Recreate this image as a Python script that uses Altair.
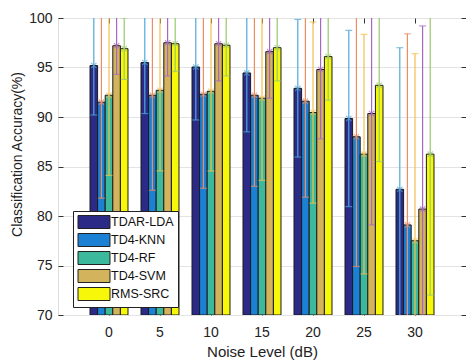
import altair as alt
import pandas as pd

levels = [0, 5, 10, 15, 20, 25, 30]
methods = ["TDAR-LDA", "TD4-KNN", "TD4-RF", "TD4-SVM", "RMS-SRC"]
acc_lda = [95.2, 95.5, 95.05, 94.45, 92.9, 89.85, 82.7]
acc_knn = [91.5, 92.2, 92.3, 92.2, 91.6, 88.0, 79.1]
acc_rf = [92.2, 92.7, 92.6, 91.9, 90.45, 86.25, 77.5]
acc_svm = [97.2, 97.5, 97.4, 96.6, 94.8, 90.35, 80.7]
acc_src = [96.9, 97.4, 97.25, 97.0, 96.1, 93.2, 86.25]
err_lda = [5.0, 5.15, 5.35, 5.95, 6.95, 8.9, 14.3]
err_knn = [9.7, 9.6, 9.5, 9.2, 9.7, 13.1, 19.3]
err_rf = [8.1, 8.15, 8.05, 8.3, 9.15, 12.1, 18.9]
err_svm = [2.9, 3.35, 3.75, 4.7, 7.0, 11.25, 18.5]
err_src = [3.1, 2.8, 3.1, 3.35, 4.4, 7.7, 14.25]

bar_colors = ["#2B2A86", "#1C80D4", "#3CB99C", "#D3B45C", "#F7F70A"]
err_colors = ["#4FA8DC", "#EE8C62", "#F2BF4E", "#A766C4", "#99C86C"]

accs = [acc_lda, acc_knn, acc_rf, acc_svm, acc_src]
errs = [err_lda, err_knn, err_rf, err_svm, err_src]
rows = []
for mi, m in enumerate(methods):
    for li, lv in enumerate(levels):
        v = accs[mi][li]
        e = errs[mi][li]
        rows.append({"level": str(lv), "method": m, "acc": v,
                     "lo": v - e, "hi": v + e, "ecolor": err_colors[mi]})
df = pd.DataFrame(rows)

FONT = "Liberation Sans"
lvl_order = [str(l) for l in levels]
yvals = [70, 75, 80, 85, 90, 95, 100]

x_scale = alt.Scale(paddingInner=0.255, paddingOuter=0.6275)
y_scale = alt.Scale(domain=[70, 100], nice=False, zero=False)
xo = alt.XOffset("method:N", sort=methods,
                 scale=alt.Scale(paddingInner=0, paddingOuter=0))

def tick_axis(orient, **kw):
    return alt.Axis(orient=orient, labels=False, title=None, grid=False, domain=False,
                    ticks=True, tickSize=5, tickColor="#333", tickWidth=1, offset=-5, **kw)

base = alt.Chart(df)

bars = base.mark_bar(stroke="#1a1a1a", strokeWidth=1, clip=True).encode(
    x=alt.X("level:N", sort=lvl_order, scale=x_scale,
            axis=alt.Axis(title="Noise Level (dB)", labelAngle=0, ticks=False,
                          labelPadding=10, titlePadding=5, grid=False,
                          labelFontSize=14, titleFontSize=15, domain=False,
                          titleFontWeight="normal", labelFont=FONT, titleFont=FONT,
                          labelColor="#222", titleColor="#222")),
    xOffset=xo,
    y=alt.Y("acc:Q", scale=y_scale,
            axis=alt.Axis(title="Classification Accuracy(%)", values=yvals,
                          ticks=False, labelPadding=6, titlePadding=4, titleY=136,
                          labelFontSize=14, titleFontSize=14, domain=False,
                          gridColor="#e3e3e3", titleFontWeight="normal",
                          labelFont=FONT, titleFont=FONT,
                          labelColor="#222", titleColor="#222")),
    y2=alt.datum(70),
    fill=alt.Fill("method:N", sort=methods,
                  scale=alt.Scale(domain=methods, range=bar_colors),
                  legend=alt.Legend(
                      title=None, orient="none", legendX=15, legendY=193,
                      fillColor="white", strokeColor="#222", padding=4,
                      symbolType="M-2.46,-1H2.46V1H-2.46Z", symbolSize=169,
                      symbolStrokeColor="#222", symbolStrokeWidth=1,
                      symbolOpacity=1, symbolOffset=10, labelOffset=10,
                      labelFontSize=12.5, labelFont=FONT, labelColor="#111",
                      rowPadding=0)),
)

rules = base.mark_rule(strokeWidth=1.2, clip=True).encode(
    x=alt.X("level:N", sort=lvl_order, scale=x_scale, axis=tick_axis("bottom")),
    xOffset=xo,
    y=alt.Y("lo:Q", scale=y_scale, axis=tick_axis("left", values=yvals)),
    y2="hi:Q",
    stroke=alt.Stroke("ecolor:N", scale=None),
)
caps_hi = base.mark_tick(thickness=1.2, size=7, clip=True, orient="horizontal").encode(
    x=alt.X("level:N", sort=lvl_order, scale=x_scale, axis=tick_axis("top")),
    xOffset=xo,
    y=alt.Y("hi:Q", scale=y_scale, axis=tick_axis("right", values=yvals)),
    color=alt.Color("ecolor:N", scale=None),
)
caps_lo = base.mark_tick(thickness=1.2, size=7, clip=True, orient="horizontal").encode(
    x=alt.X("level:N", sort=lvl_order, scale=x_scale, axis=None), xOffset=xo,
    y=alt.Y("lo:Q", scale=y_scale, axis=None),
    color=alt.Color("ecolor:N", scale=None),
)
marks = base.mark_point(shape="M-1,-1L1,1M-1,1L1,-1", size=28, filled=False,
                        strokeWidth=1.2, clip=True).encode(
    x=alt.X("level:N", sort=lvl_order, scale=x_scale, axis=None), xOffset=xo,
    y=alt.Y("acc:Q", scale=y_scale, axis=None),
    stroke=alt.Stroke("ecolor:N", scale=None),
)

chart = alt.layer(bars, rules, caps_hi, caps_lo, marks).resolve_axis(
    x="independent", y="independent"
).properties(
    width=408, height=297,
    autosize=alt.AutoSizeParams(type="none"),
    padding={"left": 50, "top": 10, "right": 0, "bottom": 45},
).configure_view(stroke="#333", strokeWidth=1).configure(background="white")

chart.save("out.html", embed_options={"renderer": "svg", "actions": False})
